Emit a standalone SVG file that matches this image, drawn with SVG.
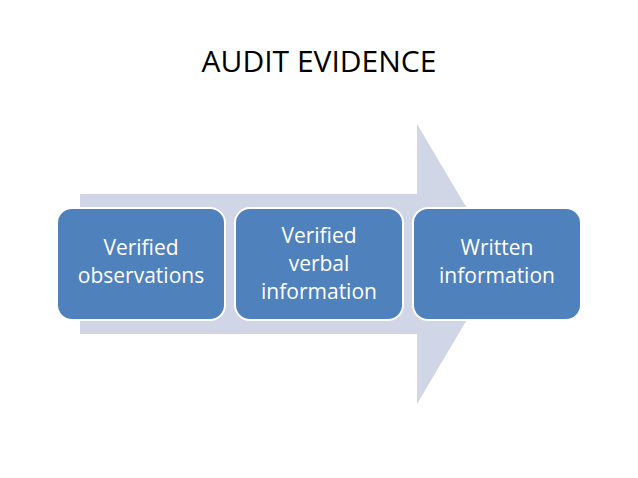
<svg xmlns="http://www.w3.org/2000/svg" width="638" height="478" viewBox="0 0 638 478">
<style>
.n{fill:#4f81bd;stroke:#fff;stroke-width:2}
.t{fill:#fff;font-family:"Open Sans","Liberation Sans",sans-serif;font-size:21px;text-anchor:middle}
</style>
<rect width="638" height="478" fill="#fff"/>
<text x="319" y="72" font-family="'Open Sans','Liberation Sans',sans-serif" font-size="30" text-anchor="middle" fill="#000">AUDIT EVIDENCE</text>
<g id="connectors">
<polygon points="80,194 417,194 417,124 500,264 417,404 417,334 80,334" fill="#d0d6e6"/>
</g>
<g id="n1"><rect class="n" x="57" y="208" width="168" height="112" rx="15"/>
<text class="t" x="141" y="255">Verified</text><text class="t" x="141" y="283">observations</text></g>
<g id="n2"><rect class="n" x="235" y="208" width="168" height="112" rx="15"/>
<text class="t" x="319" y="243">Verified</text><text class="t" x="319" y="271">verbal</text><text class="t" x="319" y="299">information</text></g>
<g id="n3"><rect class="n" x="413" y="208" width="168" height="112" rx="15"/>
<text class="t" x="497" y="255">Written</text><text class="t" x="497" y="283">information</text></g>
</svg>
